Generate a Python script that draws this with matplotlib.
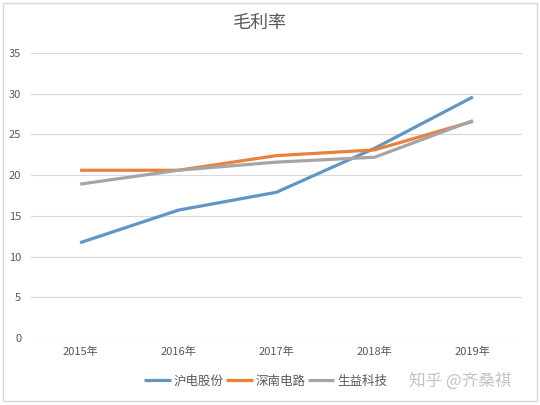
import matplotlib
matplotlib.use("Agg")
import matplotlib.pyplot as plt
from matplotlib.patches import Rectangle

plt.rcParams['font.family'] = ['Noto Sans CJK SC', 'DejaVu Sans']

years = ['2015年', '2016年', '2017年', '2018年', '2019年']
hudian = [11.7, 15.7, 17.9, 23.3, 29.6]
shennan = [20.6, 20.6, 22.4, 23.1, 26.6]
shengyi = [18.9, 20.6, 21.6, 22.2, 26.7]
names = ['沪电股份', '深南电路', '生益科技']
colors = ['#6196c4', '#e8813c', '#a5a5a5']

fig = plt.figure(figsize=(5.4, 4.05), dpi=100)
fig.patches.append(Rectangle((0.006, 0.01), 0.988, 0.982, transform=fig.transFigure,
                             fill=False, edgecolor='#d9d9d9', linewidth=1))
ax = fig.add_axes([31/540, 1 - 338/405, (522-31)/540, (338-53)/405])

x = range(len(years))
for vals, name, c in zip([hudian, shennan, shengyi], names, colors):
    ax.plot(x, vals, color=c, linewidth=2.3, label=name, solid_capstyle='butt')

ax.set_xlim(-0.5, len(years) - 0.5)
ax.set_ylim(0, 35)
ax.set_yticks(range(0, 36, 5))
ax.set_xticks(list(x))
ax.set_xticklabels(years)
ax.grid(axis='y', color='#d9d9d9', linewidth=0.8)
ax.set_axisbelow(True)
for s in ax.spines.values():
    s.set_visible(False)
ax.tick_params(length=0, labelsize=8, colors='#595959')
ax.tick_params(axis='y', pad=7)
ax.tick_params(axis='x', pad=6)

fig.text(260/540, 1 - 23/405, '毛利率', ha='center', va='center', fontsize=13, color='#595959')

leg = ax.legend(loc='center', bbox_to_anchor=(266/540, 1 - 381/405), bbox_transform=fig.transFigure,
                ncol=3, frameon=False, fontsize=9, handlelength=2.1, columnspacing=0.2,
                handletextpad=0.25)
for t in leg.get_texts():
    t.set_color('#595959')

fig.text(460/540, 1 - 381/405, '知乎 @齐桑祺', ha='center', va='center', fontsize=12, color='#c4c4c4')

fig.savefig('out.png', dpi=100)
